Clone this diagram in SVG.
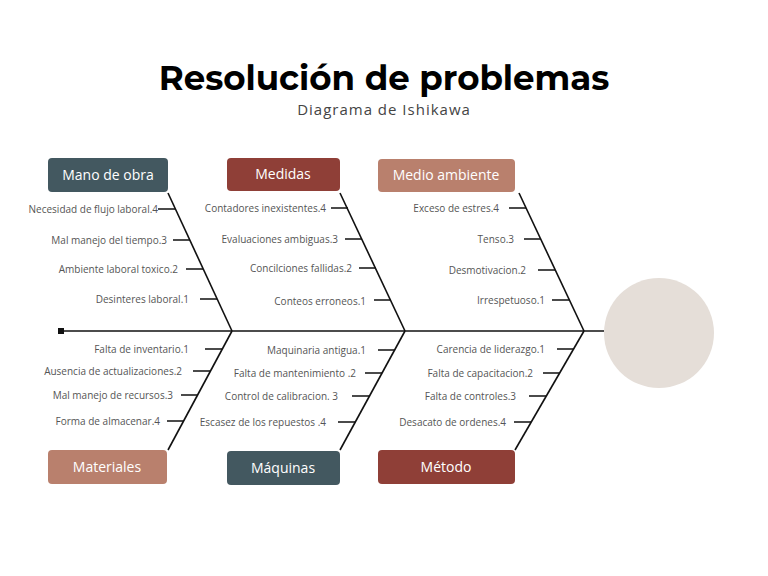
<svg xmlns="http://www.w3.org/2000/svg" width="768" height="576" viewBox="0 0 768 576">
<style>
.t{font-family:"Open Sans","Liberation Sans",sans-serif;font-size:10px;fill:#555;text-anchor:end}
.b{font-family:"Open Sans","Liberation Sans",sans-serif;font-size:14px;fill:#fff;text-anchor:middle}
line,path{stroke:#111;stroke-width:1.6;fill:none}
</style>
<rect width="768" height="576" fill="#fff"/>
<text x="384" y="90" font-family="Montserrat,'Liberation Sans',sans-serif" font-weight="bold" font-size="34" text-anchor="middle" fill="#000">Resolución de problemas</text>
<text x="384" y="115" font-family="'Open Sans','Liberation Sans',sans-serif" font-size="15" letter-spacing="1" text-anchor="middle" fill="#444">Diagrama de Ishikawa</text>
<g id="connectors">
<line x1="61" y1="331" x2="604" y2="331"/>
<rect x="58" y="328" width="6" height="6" fill="#111" stroke="none"/>
<line x1="232" y1="331" x2="168" y2="193"/>
<line x1="405" y1="331" x2="340" y2="193"/>
<line x1="584" y1="331" x2="519" y2="193"/>
<line x1="232" y1="331" x2="168" y2="450"/>
<line x1="405" y1="331" x2="340" y2="450"/>
<line x1="584" y1="331" x2="515" y2="450"/>
<path d="M158 209H175M173 240H190M186 269H203M200 299H217M205 349H222M193 371H210M181 395H198M167 421H184M331 208H348M345 239H362M359 268H376M374 300H391M378 350H395M365 373H382M352 396H369M338 422H355M509 208H526M524 239H541M538 270H555M552 300H569M557 349H574M543 373H560M529 396H546M514 422H531"/>
</g>
<g id="head"><circle cx="659" cy="333" r="55" fill="#e5ded8"/></g>
<g id="mano"><rect x="48" y="158" width="120" height="34" rx="4" fill="#435860"/><text class="b" x="108" y="180">Mano de obra</text></g>
<g id="medidas"><rect x="227" y="158" width="113" height="33" rx="4" fill="#8f3f37"/><text class="b" x="283" y="179">Medidas</text></g>
<g id="medio"><rect x="378" y="159" width="137" height="33" rx="4" fill="#b9806d"/><text class="b" x="446" y="180">Medio ambiente</text></g>
<g id="materiales"><rect x="48" y="450" width="119" height="34" rx="4" fill="#b9806d"/><text class="b" x="107" y="472">Materiales</text></g>
<g id="maquinas"><rect x="227" y="451" width="113" height="34" rx="4" fill="#435860"/><text class="b" x="283" y="473">Máquinas</text></g>
<g id="metodo"><rect x="378" y="450" width="137" height="34" rx="4" fill="#8f3f37"/><text class="b" x="446" y="472">Método</text></g>
<g id="labels">
<text class="t" x="158" y="213">Necesidad de flujo laboral.4</text>
<text class="t" x="167" y="244">Mal manejo del tiempo.3</text>
<text class="t" x="178" y="273">Ambiente laboral toxico.2</text>
<text class="t" x="189" y="303">Desinteres laboral.1</text>
<text class="t" x="189" y="353">Falta de inventario.1</text>
<text class="t" x="182" y="375">Ausencia de actualizaciones.2</text>
<text class="t" x="173" y="399">Mal manejo de recursos.3</text>
<text class="t" x="160" y="425">Forma de almacenar.4</text>
<text class="t" x="326" y="212">Contadores inexistentes.4</text>
<text class="t" x="338" y="243">Evaluaciones ambiguas.3</text>
<text class="t" x="352" y="272">Concilciones fallidas.2</text>
<text class="t" x="366" y="305">Conteos erroneos.1</text>
<text class="t" x="366" y="354">Maquinaria antigua.1</text>
<text class="t" x="356" y="377">Falta de mantenimiento .2</text>
<text class="t" x="338" y="400">Control de calibracion. 3</text>
<text class="t" x="326" y="426">Escasez de los repuestos .4</text>
<text class="t" x="499" y="212">Exceso de estres.4</text>
<text class="t" x="514" y="243">Tenso.3</text>
<text class="t" x="526" y="274">Desmotivacion.2</text>
<text class="t" x="545" y="304">Irrespetuoso.1</text>
<text class="t" x="545" y="353">Carencia de liderazgo.1</text>
<text class="t" x="533" y="377">Falta de capacitacion.2</text>
<text class="t" x="516" y="400">Falta  de controles.3</text>
<text class="t" x="506" y="426">Desacato de ordenes.4</text>
</g>
</svg>
